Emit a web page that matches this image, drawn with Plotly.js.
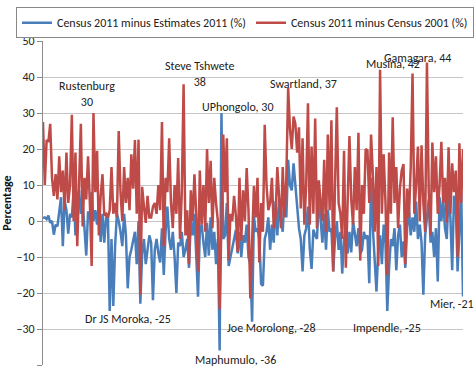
<!DOCTYPE html>
<html>
<head>
<meta charset="utf-8">
<script src="https://cdn.plot.ly/plotly-3.0.1.min.js"></script>
<style>html,body{margin:0;padding:0;background:#fff;}#chart{width:474px;height:372px;}</style>
</head>
<body>
<div id="chart"></div>
<script>
// Census 2011 minus Estimates 2011 (%)
const censusVsEstimates = [
  0.8, 1, 0.5, 1.5, -0.5, 0, -3.8, -1, -1.5, 3, 6.6, -7, 5.5, 3, -3.5, 2, 1, 8.6, -4, 3,
  8.6, 2, 5, -2, -9.6, 2.7, 1, 8, 0, 3, -1, 5, -5.8, 2, -6, 1, 2, -25, -5, -23.6,
  -7, 2, 0, -3, -7, 2, -4, -18.7, -10, -8, -5, -3, -12, 0, -23, -9, -5, -12, -8, -4,
  -6, -22, -8, -5, -9, -11.5, -2, -15, -3, 4, -5, -8, -3, -10, -20, -6, -7, -3, -10, -8,
  -5, -13, 0, -4, 2, -8, -21, -3, -1, -6, -10, -0.5, -9.6, 1, -8, -3, -12, -5, -36, 30,
  -5, -4, 5, -12.5, -10, -8, -6, -2.5, -9, -3, -10, -4, -6, -1, -10, -12, -28, 1.3, -3, -2,
  -5, -17.5, -18, -5, -3, 1, -8, -1, -6, 5.5, -4, 6.3, 0, -3, 8, 1, 17, 10, 8.5, 16,
  10, 3, -2, -5, -14, -4, -2, 4, -7.7, -13.3, -2.4, -4, -5, 6.9, -1, -6, 2, -8, 3, -3,
  -2, -14, -5, 0, -8, -3, -14.6, -5, -2, -9, -3, -8.7, 0, -4, -7, -2, -9, -8, -3, -5,
  -4, -17.3, 12, -2, -10, -19.6, -8, -4, -12, -1, -6, -25, -13, -5, -7, -2, -13.7, -4, -1, -10,
  -5.7, -13, -2, 3.6, -4, 1, -3, 5.4, -5, -1, -6, -20.5, -4, 2, 6, -6, -3, -10, -2, -16.8,
  6.6, 0, 6, -2, -5, 7.8, 1, -13.7, 7, 5, -14, -3, 8, -21
];
// Census 2011 minus Census 2001 (%)
const censusVsCensus2001 = [
  27.5, 10, 22.5, 22, 27, 12, 7, 13, 6, 18, 8, 14, 3, 19, 5, 10, 29.5, 0, 19, -7,
  10, 27, -1.5, 12, 6, 18, 5, -12.5, 30, 8, 19.5, -4, 7, 13, 1.5, 2, 1, 3, 15, 2,
  5, 1, 25, 8, 0, 15, 5, 12, 3, 18.5, 9, 22.5, 2, 22.6, -20.5, 9.5, 4, -0.5, 7, 1,
  1, 4, 5, 2, 10, 3, 27.5, -7, 12, 8, 23, 5, -2, 10, 2, 17.5, -5, 8, 38, -4,
  3, -12, 8.5, 0, 13, 2, -14, 14, -1, 10, -3, 20, 5, 16.7, -2, 12, 5, 0, -24.5, 4,
  24, 8, 23, -11, 2, 0, 7, 1.5, -8.6, 12, -5.5, 8.5, 0, 14.7, 3, -21.5, -5, 9.7, 1, 12,
  -11.5, 5, -3, 26.7, 10, 3, 5, 12, -2, 1, 15, 7, -2, 15, 1, 12, 37, 25.6, 20, 29,
  27, 19, 26, 3.5, 23, -1, 10, 32.7, -1, 20.7, 2, 28.5, -2, 11.3, 5, 0, 17, -3, 24, 3,
  28, -14, 10, 31.6, 5, 2, -5, 19.5, -13, 8, 23.6, 6, -1, 15, 3, 24.5, -11, 10, 2, 20,
  19.6, 5, 24, 12.6, -3, 15, -12.5, 42, 2, 18.5, 5, -15, 19, 2, 28.8, 5, 15, -2, 9, 14,
  15.8, -12, 9, 1, 15, 41, 2, 10, 20.7, 0, 21, 5, -3, 44, 8, -4, 21.8, 8, 18, 2,
  10, 22, 5, 12, -0.5, 20.5, 2, 16, 8, 14, -10, 21.6, 5, 20
];
const seriesNames = ["Census 2011 minus Estimates 2011 (%)", "Census 2011 minus Census 2001 (%)"];
const yTicks = [-40, -30, -20, -10, 0, 10, 20, 30, 40, 50];

// labelled municipalities: [name, series (0 blue, 1 red), index, text, xshift, yshift]
const labelNames = ["Rustenburg", "Steve Tshwete", "UPhongolo", "Swartland", "Musina", "Gamagara",
                    "Dr JS Moroka", "Joe Morolong", "Maphumulo", "Impendle", "Mier"];
const labelSeries = [1, 1, 0, 1, 1, 1, 0, 0, 0, 0, 0];
const labelIndex = [28, 78, 99, 136, 187, 213, 37, 116, 98, 191, 233];
const labelTwoLine = [true, true, false, false, false, false, false, false, false, false, false];
const labelShiftX = [-6, 16, 16, 15, 13, -9, 18, 19, 16, 0, -11];
const labelShiftY = [19, 10, 6, 4, 6, 5, -8, -6, -9, -17, -7];

const xs = censusVsEstimates.map((_, i) => i + 1);
const FONT = "Carlito, Lato, 'Liberation Sans', sans-serif";

const traces = [
  {x: xs, y: censusVsEstimates, name: seriesNames[0], type: "scatter", mode: "lines",
   line: {color: "#4a7ebb", width: 2.5}},
  {x: xs, y: censusVsCensus2001, name: seriesNames[1], type: "scatter", mode: "lines",
   line: {color: "#be4b48", width: 2.5}}
];

const allSeries = [censusVsEstimates, censusVsCensus2001];
const annotations = labelNames.map((n, k) => {
  const v = allSeries[labelSeries[k]][labelIndex[k]];
  const vtxt = String(v);
  return {
    x: labelIndex[k] + 1, y: v, xref: "x", yref: "y",
    text: labelTwoLine[k] ? (n + "<br>" + vtxt) : (n + ", " + vtxt),
    showarrow: false, xshift: labelShiftX[k], yshift: labelShiftY[k],
    font: {family: FONT, size: 12, color: "#222"}, align: "center"
  };
});

const layout = {
  width: 474, height: 372,
  margin: {l: 43, r: 11, t: 35, b: 7},
  paper_bgcolor: "#fff", plot_bgcolor: "#fff",
  showlegend: true,
  legend: {orientation: "h", x: -0.04, y: 1.104, xanchor: "left", yanchor: "top",
           bordercolor: "#888", borderwidth: 1, font: {family: FONT, size: 12, color: "#222"},
           bgcolor: "#fff", traceorder: "normal"},
  xaxis: {range: [1, 234], showgrid: false, zeroline: false, showline: false,
          showticklabels: false, ticks: "", fixedrange: true},
  yaxis: {range: [-40, 50], tickvals: yTicks, gridcolor: "#c6c6c6", gridwidth: 1,
          zeroline: false, showline: true, linecolor: "#8c8c8c", linewidth: 1,
          ticks: "outside", ticklen: 5, tickcolor: "#8c8c8c",
          tickfont: {family: FONT, size: 12, color: "#222"},
          title: {text: "Percentage", font: {family: FONT, size: 12, color: "#111", weight: "bold"}, standoff: 8},
          automargin: false},
  annotations: annotations
};

Plotly.newPlot("chart", traces, layout, {displayModeBar: false, staticPlot: true});
</script>
</body>
</html>
